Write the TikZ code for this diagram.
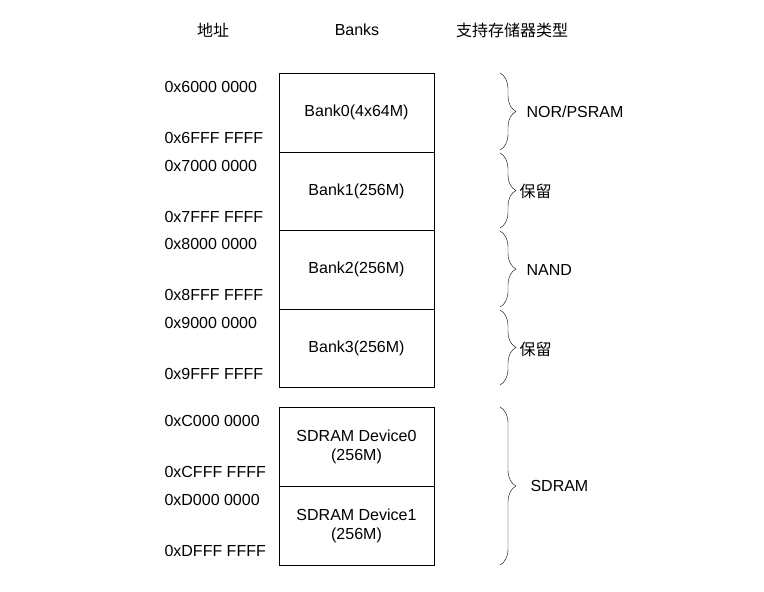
\documentclass[tikz,border=0pt]{standalone}
\usepackage{fontspec}
\setmainfont{Liberation Sans}
\newfontfamily\cjk{Noto Sans CJK SC}
\usetikzlibrary{decorations.pathreplacing}
\begin{document}
\begin{tikzpicture}[x=1pt,y=-1pt,
  every node/.style={font=\fontsize{16}{19}\selectfont},
  bank/.style={draw,thin,minimum width=155pt,align=center,inner sep=0pt},
  addr/.style={anchor=west},
  br/.style={decorate,decoration={brace,amplitude=16pt}}]
\useasboundingbox (0,0) rectangle (764,592);
\node (h1) at (213,30) {\cjk 地址};
\node (h2) at (357,30) {Banks};
\node (h3) at (512,30) {\cjk 支持存储器类型};
\node[bank,minimum height=79pt] (b0) at (356.5,112.5) {Bank0(4x64M)};
\node[bank,minimum height=78pt] (b1) at (356.5,191) {Bank1(256M)};
\node[bank,minimum height=79pt] (b2) at (356.5,269.5) {Bank2(256M)};
\node[bank,minimum height=78pt] (b3) at (356.5,348) {Bank3(256M)};
\node[bank,minimum height=79pt] (s0) at (356.5,446.5) {SDRAM Device0\\(256M)};
\node[bank,minimum height=79pt] (s1) at (356.5,525.5) {SDRAM Device1\\(256M)};
\foreach \t/\b/\y in {6/6/73,7/7/152,8/8/230,9/9/309,C/C/407,D/D/486}{
  \node[addr] (a\t) at (161,\y+14) {0x\t000 0000};
  \node[addr] (e\t) at (161,\y+65) {0x\b FFF FFFF};
}
\coordinate (t0) at (500,73); \coordinate (u0) at (500,150);
\coordinate (t1) at (500,153); \coordinate (u1) at (500,228);
\coordinate (t2) at (500,231); \coordinate (u2) at (500,307);
\coordinate (t3) at (500,310); \coordinate (u3) at (500,385);
\coordinate (t4) at (500,407); \coordinate (u4) at (500,565);
\foreach \i in {0,...,4} \draw[br] (t\i) -- (u\i);
\node[anchor=west] (l0) at (523,112) {NOR/PSRAM};
\node[anchor=west] (l1) at (516,191) {\cjk 保留};
\node[anchor=west] (l2) at (523,270) {NAND};
\node[anchor=west] (l3) at (516,349) {\cjk 保留};
\node[anchor=west] (l4) at (527,486) {SDRAM};
\end{tikzpicture}
\end{document}
